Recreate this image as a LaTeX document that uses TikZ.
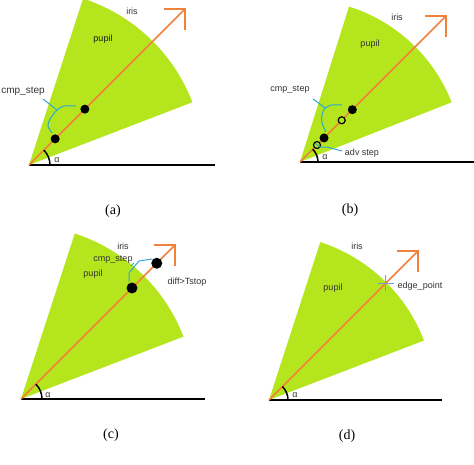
\documentclass[tikz,border=0pt]{standalone}
\usepackage{fontspec}
\setmainfont{Liberation Serif}
\newfontfamily\lblfont{Liberation Sans}
\usetikzlibrary{arrows.meta,calc}
\definecolor{fan}{HTML}{B5E61D}
\definecolor{ray}{HTML}{F0823C}
\definecolor{brk}{HTML}{2EA8D0}
\definecolor{crosscol}{HTML}{7C9BD6}
\tikzset{
 fanfill/.style={fill=fan},
 rayline/.style={draw=ray,line width=1.6pt,-{Straight Barb[length=15pt,width=30pt]}},
 base/.style={draw=black,line width=1.5pt},
 anglearc/.style={draw=black,line width=1.5pt},
 lbl/.style={font=\lblfont\fontsize{9}{11}\selectfont,text=black!80,inner sep=0pt},
 captext/.style={font=\fontsize{14}{16}\selectfont,inner sep=0pt},
 dot/.style={circle,fill=black,minimum size=9pt,inner sep=0pt},
 bigdot/.style={circle,fill=black,minimum size=11pt,inner sep=0pt},
 odot/.style={circle,draw=black,fill=fan,line width=1.2pt,minimum size=7pt,inner sep=0pt},
 bracket/.style={draw=brk,line width=1pt},
 crossline/.style={draw=crosscol,line width=0.8pt},
}
\begin{document}
\begin{tikzpicture}[x=1pt,y=1pt]
\useasboundingbox (0,0) rectangle (474,464);
% ---------- (a) ----------
\coordinate (Oa) at (29,299);
\coordinate (Ea) at (215,299);
\coordinate (Ta) at ($(Oa)+(45:222)$);
\fill[fanfill] (Oa) -- ($(Oa)+(21:175)$) arc[start angle=21,end angle=72,radius=175] -- cycle;
\draw[base] (Oa) -- (Ea);
\draw[rayline] (Oa) -- (Ta);
\draw[anglearc] ($(Oa)+(0:21)$) arc[start angle=0,end angle=45,radius=21];
\node[lbl] (alphaA) at (57,304) {α};
\node[dot] (a1) at ($(Oa)+(45:37)$) {};
\node[dot] (a2) at ($(Oa)+(45:79)$) {};
\coordinate (ba) at (57,354);
\draw[bracket] plot[smooth] coordinates {(76,358) (64,358) (57,354) (50,345) (48,338) (52,331)};
\node[lbl,font=\lblfont\fontsize{10}{12}\selectfont] (cmpA) at (23,373) {cmp\_step};
\coordinate (pa) at (43,365);
\draw[bracket] (pa) -- (ba);
\node[lbl,text=black!90] (pupilA) at (103,425) {pupil};
\node[lbl] (irisA) at (132,453) {iris};
\node[captext] (capA) at (113,253) {(a)};
% ---------- (b) ----------
\coordinate (Ob) at (300,302);
\coordinate (Eb) at (474,302);
\coordinate (Tb) at ($(Ob)+(45:208)$);
\fill[fanfill] (Ob) -- ($(Ob)+(21.5:163)$) arc[start angle=21.5,end angle=72.5,radius=163] -- cycle;
\draw[base] (Ob) -- (Eb);
\draw[rayline] (Ob) -- (Tb);
\draw[anglearc] ($(Ob)+(0:18)$) arc[start angle=0,end angle=45,radius=18];
\node[lbl] (alphaB) at (325,307) {α};
\node[odot] (b0) at ($(Ob)+(45:24)$) {};
\node[dot] (b1) at ($(Ob)+(45:34)$) {};
\node[odot] (b2) at ($(Ob)+(45:59)$) {};
\node[dot] (b3) at ($(Ob)+(45:74)$) {};
\coordinate (bb) at (325,356);
\draw[bracket] plot[smooth] coordinates {(342,359) (332,359) (325,356) (322,349) (322,341) (326,332)};
\node[lbl] (cmpB) at (290,374) {cmp\_step};
\coordinate (pb) at (313,365);
\draw[bracket] (pb) -- (bb);
\coordinate (bb2) at (327,317);
\draw[bracket] plot[smooth] coordinates {(315,321) (320,317) (327,317)};
\node[lbl] (advB) at (362,311) {adv step};
\coordinate (pb2) at (342,313);
\draw[bracket] (bb2) -- (pb2);
\node[lbl] (pupilB) at (370,420) {pupil};
\node[lbl] (irisB) at (397,447) {iris};
\node[captext] (capB) at (350,254) {(b)};
% ---------- (c) ----------
\coordinate (Oc) at (21,65);
\coordinate (Ec) at (205,65);
\coordinate (Tc) at ($(Oc)+(45:219)$);
\fill[fanfill] (Oc) -- ($(Oc)+(21:174)$) arc[start angle=21,end angle=72,radius=174] -- cycle;
\draw[base] (Oc) -- (Ec);
\draw[rayline] (Oc) -- (Tc);
\draw[anglearc] ($(Oc)+(0:21)$) arc[start angle=0,end angle=45,radius=21];
\node[lbl] (alphaC) at (48,69) {α};
\node[bigdot] (c1) at ($(Oc)+(45:157)$) {};
\node[bigdot] (c2) at ($(Oc)+(45:192)$) {};
\coordinate (bc0) at (129,182);
\coordinate (bc1) at (152,205);
\draw[bracket] (bc0) -- (129,191) -- (139,203) -- (bc1);
\draw[bracket] (131,198) -- (134,201);
\node[lbl] (irisC) at (123,218) {iris};
\node[lbl] (cmpC) at (113,204) {cmp\_step};
\node[lbl] (pupilC) at (93,190) {pupil};
\node[lbl] (diffC) at (187,182) {diff>Tstop};
\node[captext] (capC) at (111,29) {(c)};
% ---------- (d) ----------
\coordinate (Od) at (269,64);
\coordinate (Ed) at (442,64);
\coordinate (Td) at ($(Od)+(45:212)$);
\fill[fanfill] (Od) -- ($(Od)+(21:166)$) arc[start angle=21,end angle=72,radius=166] -- cycle;
\draw[base] (Od) -- (Ed);
\draw[rayline] (Od) -- (Td);
\draw[anglearc] ($(Od)+(0:19)$) arc[start angle=0,end angle=45,radius=19];
\node[lbl] (alphaD) at (295,69) {α};
\coordinate (ep) at ($(Od)+(45:165)$);
\draw[crossline] ($(ep)+(-8,0)$) -- ($(ep)+(8,0)$);
\draw[crossline] ($(ep)+(0,-8)$) -- ($(ep)+(0,8)$);
\node[lbl] (irisD) at (357,218) {iris};
\node[lbl] (pupilD) at (333,176) {pupil};
\node[lbl] (edgeD) at (420,178) {edge\_point};
\node[captext] (capD) at (347,28) {(d)};
\end{tikzpicture}
\end{document}
